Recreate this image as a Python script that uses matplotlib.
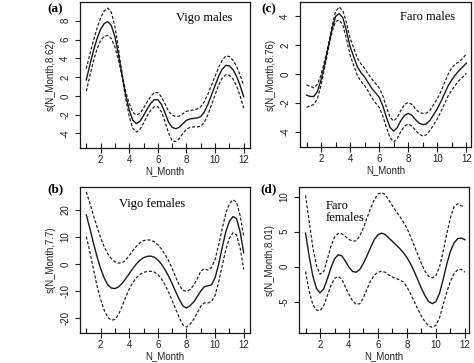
import numpy as np
import matplotlib
matplotlib.use("Agg")
from matplotlib import pyplot as plt

plt.rcParams['axes.unicode_minus'] = False
plt.rcParams['font.family'] = ['Liberation Sans', 'DejaVu Sans']

# month grid the curves were read on
months = np.arange(1, 12.01, 0.25)
rug_months = [1, 2, 3, 4, 5, 6, 7, 8, 9, 10, 11, 12]

# (a) Vigo males
vm_fit = [1.7, 3.3, 4.8, 6.1, 7.1, 7.7, 7.9, 7.5, 6.3, 4.4, 2.2, 0.1, -1.5, -2.6, -2.95,
          -2.7, -2.1, -1.4, -0.8, -0.4, -0.4, -0.9, -1.8, -2.8, -3.35, -3.5, -3.35, -2.95,
          -2.6, -2.45, -2.4, -2.35, -2.2, -1.7, -0.9, 0.1, 1.1, 2.1, 2.85, 3.25, 3.2, 2.8,
          2.1, 1.1, -0.1]
vm_hi = [2.9, 4.45, 5.9, 7.2, 8.3, 9.05, 9.35, 8.9, 7.4, 5.0, 2.35, 0.45, -0.8, -1.75, -2.05,
         -1.85, -1.3, -0.65, -0.05, 0.35, 0.35, -0.1, -0.85, -1.65, -2.05, -2.2, -2.15, -1.9,
         -1.65, -1.55, -1.5, -1.4, -1.15, -0.6, 0.2, 1.15, 2.1, 3.05, 3.8, 4.25, 4.2, 3.8,
         3.15, 2.2, 1.1]
vm_lo = [0.5, 2.15, 3.7, 5.0, 5.9, 6.35, 6.45, 6.1, 5.2, 3.8, 2.05, -0.25, -2.2, -3.45, -3.85,
         -3.55, -2.9, -2.15, -1.55, -1.15, -1.15, -1.7, -2.75, -3.95, -4.8, -4.85, -4.55, -4.0,
         -3.55, -3.35, -3.3, -3.3, -3.25, -2.8, -2.0, -0.95, 0.1, 1.15, 1.9, 2.25, 2.2, 1.8,
         1.05, 0.0, -1.3]

# (b) Vigo females
vf_fit = [18.2, 13.2, 7.8, 2.8, -1.6, -5.1, -7.6, -8.8, -9.0, -8.4, -7.1, -5.4, -3.5, -1.6,
          0.1, 1.5, 2.4, 2.9, 3.0, 2.6, 1.6, 0.0, -2.0, -4.4, -7.2, -10.2, -13.0, -15.4,
          -16.2, -15.3, -14.0, -12.0, -9.9, -8.3, -8.0, -7.6, -5.0, 0.0, 6.2, 12.0, 15.8,
          17.6, 16.8, 12.0, 4.2]
vf_hi = [26.7, 22.5, 18.0, 13.8, 9.8, 6.4, 3.8, 2.0, 0.9, 0.4, 0.5, 1.5, 3.2, 5.0, 6.6, 7.9,
         8.7, 9.0, 8.9, 8.3, 7.2, 5.6, 3.6, 1.3, -1.6, -4.8, -7.8, -9.7, -10.0, -9.4, -7.8,
         -5.4, -2.6, -1.6, -2.2, -1.2, 1.8, 7.0, 13.2, 18.8, 22.3, 23.8, 22.9, 18.0, 10.2]
vf_lo = [10.2, 4.5, -1.8, -8.0, -13.0, -17.0, -19.6, -20.7, -20.4, -18.6, -15.6, -12.2, -9.2,
         -6.8, -5.0, -3.8, -3.0, -2.7, -2.6, -2.9, -3.8, -5.4, -7.6, -10.3, -13.4, -16.6,
         -19.8, -22.4, -23.2, -22.2, -20.4, -18.0, -15.5, -14.3, -14.3, -13.8, -11.5, -6.6,
         -0.5, 5.4, 9.6, 11.6, 10.8, 6.0, -1.9]

# (c) Faro males
fm_fit = [-1.45, -1.55, -1.55, -1.2, -0.4, 0.7, 1.9, 3.1, 4.0, 4.2, 3.9, 3.0, 1.9, 1.2, 0.5,
          0.1, -0.2, -0.6, -1.0, -1.3, -1.6, -2.2, -3.0, -3.7, -3.95, -3.7, -3.2, -2.85, -2.72,
          -2.85, -3.15, -3.4, -3.5, -3.45, -3.2, -2.8, -2.4, -1.9, -1.35, -0.8, -0.4, -0.05,
          0.25, 0.5, 0.76]
fm_hi = [-0.75, -0.85, -0.95, -0.7, -0.05, 0.95, 2.05, 3.3, 4.35, 4.65, 4.4, 3.55, 2.5, 1.8,
         1.1, 0.7, 0.4, 0.0, -0.35, -0.65, -0.95, -1.5, -2.3, -3.0, -3.25, -3.0, -2.5, -2.1,
         -1.96, -2.1, -2.4, -2.65, -2.72, -2.7, -2.5, -2.1, -1.7, -1.2, -0.6, 0.0, 0.45, 0.7,
         0.85, 1.1, 1.4]
fm_lo = [-2.3, -2.2, -2.1, -1.7, -0.75, 0.45, 1.75, 2.9, 3.65, 3.75, 3.4, 2.45, 1.3, 0.6,
         -0.1, -0.5, -0.8, -1.2, -1.65, -2.0, -2.3, -2.9, -3.7, -4.4, -4.7, -4.45, -3.95,
         -3.6, -3.46, -3.6, -3.9, -4.15, -4.3, -4.2, -3.9, -3.5, -3.1, -2.6, -2.05, -1.5,
         -1.1, -0.75, -0.45, -0.2, 0.06]

# (d) Faro females
ff_fit = [4.8, 1.5, -1.3, -3.1, -3.75, -3.2, -1.8, -0.2, 1.1, 1.7, 1.55, 0.8, -0.1, -0.7,
          -0.8, -0.4, 0.5, 1.6, 2.8, 3.9, 4.55, 4.8, 4.6, 4.1, 3.6, 3.1, 2.6, 2.0, 1.3, 0.4,
          -0.7, -1.9, -3.1, -4.2, -5.0, -5.3, -5.0, -3.8, -1.8, 0.4, 2.2, 3.4, 4.0, 4.1, 3.85]
ff_hi = [10.2, 6.5, 2.8, 0.2, -1.1, -0.7, 1.0, 2.9, 4.2, 4.75, 4.7, 4.3, 3.9, 3.65, 3.7, 4.4,
         5.6, 7.0, 8.4, 9.6, 10.4, 10.6, 10.3, 9.5, 8.7, 7.9, 7.2, 6.4, 5.5, 4.3, 3.0, 1.7,
         0.4, -0.7, -1.4, -1.6, -1.3, 0.0, 2.2, 4.7, 7.0, 8.6, 9.0, 8.7, 8.6]
ff_lo = [-0.7, -3.5, -5.4, -6.2, -6.3, -5.6, -4.2, -2.7, -1.7, -1.4, -1.8, -2.9, -4.0, -4.9,
         -5.4, -5.3, -4.4, -3.2, -2.0, -1.2, -0.8, -0.65, -0.8, -1.2, -1.5, -1.7, -1.9, -2.2,
         -2.9, -3.9, -5.0, -6.1, -7.1, -7.9, -8.5, -8.7, -8.4, -7.3, -5.4, -3.6, -2.1, -1.0,
         -0.45, -0.4, -0.8]

W, H = 474, 363
fig = plt.figure(figsize=(W / 100, H / 100), dpi=100)


def add_panel(l, t, r, b):
    return fig.add_axes([l / W, 1 - b / H, (r - l) / W, (b - t) / H])


panels = [
    # box px, xlim, ylim, yticks, ylabel, fit, hi, lo
    ((80, 2, 250, 148), (0.56, 12.44), (-5.55, 10.0), [-4, -2, 0, 2, 4, 6, 8],
     's(N_Month,8.62)', vm_fit, vm_hi, vm_lo),
    ((80, 187, 250, 333), (0.56, 12.44), (-25.4, 28.5), [-20, -10, 0, 10, 20],
     's(N_Month,7.7)', vf_fit, vf_hi, vf_lo),
    ((300, 2, 471, 147), (0.55, 12.32), (-5.05, 5.0), [-4, -2, 0, 2, 4],
     's(N_Month,8.76)', fm_fit, fm_hi, fm_lo),
    ((299, 187, 469, 333), (0.55, 12.28), (-9.5, 11.4), [-5, 0, 5, 10],
     's(N_Month,8.01)', ff_fit, ff_hi, ff_lo),
]

dash = (0, (2.6, 1.6))
axes = []
for box, xl, yl, yt, ylab, fit, hi, lo in panels:
    ax = add_panel(*box)
    ax.plot(months, fit, color='#1a1a1a', lw=1.0)
    ax.plot(months, hi, color='#1a1a1a', lw=0.85, ls=dash)
    ax.plot(months, lo, color='#1a1a1a', lw=0.85, ls=dash)
    ax.vlines(rug_months, 0, 0.035, transform=ax.get_xaxis_transform(),
              color='#1a1a1a', lw=0.8)
    ax.set_xlim(*xl)
    ax.set_ylim(*yl)
    ax.set_xticks([2, 4, 6, 8, 10, 12])
    ax.set_yticks(yt)
    ax.tick_params(direction='out', length=3.6, width=0.8, labelsize=7,
                   colors='#222222', top=False, right=False)
    ax.tick_params(axis='x', pad=1.5)
    ax.tick_params(axis='y', pad=3.5, labelrotation=90)
    for lab in ax.get_yticklabels():
        lab.set_va('center')
    for sp in ax.spines.values():
        sp.set_linewidth(0.9)
        sp.set_color('#1a1a1a')
    ax.set_xlabel('N_Month', fontsize=7, labelpad=1.0, color='#222222')
    ax.set_ylabel(ylab, fontsize=7, labelpad=3, color='#222222')
    axes.append(ax)

serif = ['Liberation Serif', 'DejaVu Serif']
fig.text(55.5 / W, 1 - 9 / H, '(a)', fontsize=9.5, fontweight='bold', family=serif,
         ha='center', va='center')
fig.text(55.5 / W, 1 - 189 / H, '(b)', fontsize=9.5, fontweight='bold', family=serif,
         ha='center', va='center')
fig.text(268.5 / W, 1 - 9 / H, '(c)', fontsize=9.5, fontweight='bold', family=serif,
         ha='center', va='center')
fig.text(268.5 / W, 1 - 189 / H, '(d)', fontsize=9.5, fontweight='bold', family=serif,
         ha='center', va='center')

fig.text(204 / W, 1 - 17.5 / H, 'Vigo males', fontsize=9, family=serif,
         ha='center', va='center')
fig.text(428 / W, 1 - 17.5 / H, 'Faro males', fontsize=9, family=serif,
         ha='center', va='center')
fig.text(152.5 / W, 1 - 204 / H, 'Vigo females', fontsize=9, family=serif,
         ha='center', va='center')
fig.text(326 / W, 1 - 212 / H, 'Faro\nfemales', fontsize=9, family=serif,
         ha='left', va='center', linespacing=1.05)

fig.savefig('out.png', dpi=100)
